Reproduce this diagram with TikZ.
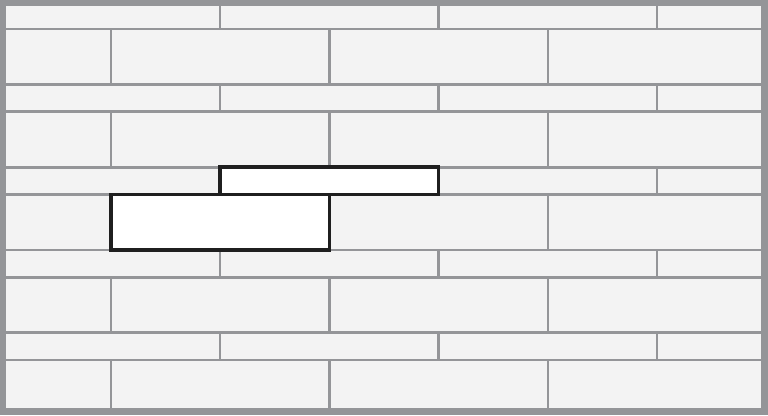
\documentclass[tikz,border=0pt]{standalone}
\usepackage{tikz}
\definecolor{mortargray}{HTML}{949598}
\definecolor{brickfill}{HTML}{F3F3F3}
\tikzset{
	mortar/.style={draw=mortargray, line width=2.7pt},
	marked/.style={draw=black!88, line width=3.8pt, fill=white}
}

\begin{document}
\begin{tikzpicture}[x=1pt,y=-1pt]
	%\draw[help lines] (0,0) grid (768,415);
	\useasboundingbox (0,0) rectangle (768,415);

	\fill[mortargray] (0,0) rectangle (768,415);
	\fill[brickfill] (6,6) rectangle (761,408);

	\begin{scope}
		\clip (6,6) rectangle (761,408);
		\foreach \k in {0,...,4}{
			\draw[mortar] (0,29+82.75*\k) -- ++(768,0);
			\draw[mortar] (0,84.5+82.75*\k) -- ++(768,0);
			\foreach \j in {0,1,2}{
				\draw[mortar] (220+218.5*\j,1.75+82.75*\k) -- ++(0,27.25);
				\draw[mortar] (111+218.5*\j,29+82.75*\k) -- ++(0,55.5);
			}
		}
	\end{scope}

	\draw[marked] (220,167.25) rectangle (438.5,194.5);
	\draw[marked] (111,194.5) rectangle (329.5,250);

\end{tikzpicture}
\end{document}
